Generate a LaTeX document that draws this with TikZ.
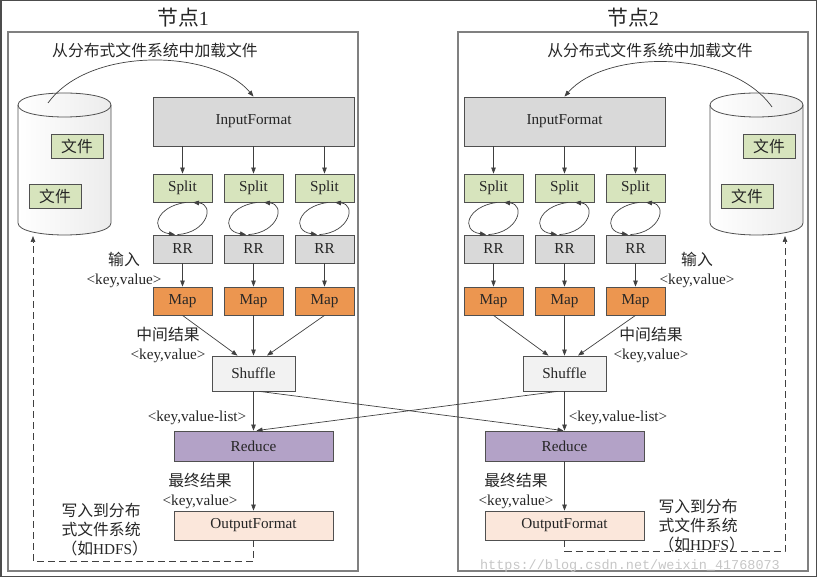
\documentclass[tikz,border=0pt]{standalone}
\usepackage{fontspec}
\setmainfont{Liberation Serif}
\newfontfamily\cjk[Scale=1.04]{Noto Sans CJK SC}
\newfontfamily\wmfont{Liberation Mono}
\usepackage{xcolor}
\usetikzlibrary{arrows.meta,shadows}
\definecolor{boxline}{RGB}{80,80,80}
\definecolor{linegray}{RGB}{64,64,64}
\definecolor{framegray}{RGB}{128,128,128}
\definecolor{splitgreen}{RGB}{215,228,189}
\definecolor{rrgray}{RGB}{217,217,217}
\definecolor{maporange}{RGB}{236,150,80}
\definecolor{shufflegray}{RGB}{242,242,242}
\definecolor{reducepurple}{RGB}{179,162,199}
\definecolor{outpeach}{RGB}{251,231,219}

\begin{document}
\begin{tikzpicture}[x=1pt,y=-1pt,
	font=\fontsize{15.2}{19}\selectfont,
	box/.style={draw=boxline,line width=0.8pt,inner sep=0pt,text=black!85,
		drop shadow={shadow xshift=1pt,shadow yshift=-1pt,fill=black,opacity=0.25}},
	small/.style={box,minimum width=59pt,minimum height=28pt},
	filebox/.style={box,fill=splitgreen,minimum width=52pt,minimum height=24pt},
	arr/.style={draw=linegray,line width=0.7pt,-{Triangle[length=6pt,width=4.5pt]}},
	lbl/.style={text=black!85,align=center}]
	\useasboundingbox (0,0) rectangle (817,577);
	\draw[black!70,line width=1.5pt] (0.75,0.75) rectangle (816.25,576.25);

	% the two nodes
	\draw[framegray,line width=1.2pt] (8,32) rectangle (358,571);
	\draw[framegray,line width=1.2pt] (458,32) rectangle (808,571);
	\node[lbl,font=\fontsize{20}{24}\selectfont] (ta) at (183,18) {{\cjk 节点}1};
	\node[lbl,font=\fontsize{20}{24}\selectfont] (tb) at (633,18) {{\cjk 节点}2};

	% file systems
	\draw[boxline,line width=0.8pt,left color=white,right color=gray!15]
		(18,105) -- (18,223) .. controls (18,239) and (111,239) .. (111,223)
		-- (111,105) .. controls (111,89) and (18,89) .. (18,105) -- cycle;
	\draw[boxline,line width=0.8pt] (18,105) .. controls (18,121) and (111,121) .. (111,105);
	\draw[boxline,line width=0.8pt,left color=white,right color=gray!15]
		(710,105) -- (710,223) .. controls (710,239) and (803,239) .. (803,223)
		-- (803,105) .. controls (803,89) and (710,89) .. (710,105) -- cycle;
	\draw[boxline,line width=0.8pt] (710,105) .. controls (710,121) and (803,121) .. (803,105);
	\node[filebox] (fa1) at (77,146) {\cjk 文件};
	\node[filebox] (fa2) at (55,196.5) {\cjk 文件};
	\node[filebox] (fb1) at (769,146) {\cjk 文件};
	\node[filebox] (fb2) at (747,196.5) {\cjk 文件};
	\coordinate (la) at (48,103);
	\coordinate (lb) at (772,107);
	\coordinate (dba) at (33,236);
	\coordinate (dbb) at (785,236);

	\foreach \n/\d in {a/0,b/311} {
		\node[box,fill=rrgray,minimum width=201pt,minimum height=49pt] (in\n) at ({253.5+\d},121.5) {InputFormat};
		\node[box,fill=shufflegray,minimum width=83pt,minimum height=35pt] (sh\n) at ({253.5+\d},373.5) {Shuffle};
		\node[box,fill=reducepurple,minimum width=159pt,minimum height=30pt] (re\n) at ({253.5+\d},446) {Reduce};
		\node[box,fill=outpeach,minimum width=159pt,minimum height=29pt] (out\n) at ({253.5+\d},525.5) {OutputFormat};
		\foreach \i in {1,2,3} {
			\node[small,fill=splitgreen] (s\n\i) at ({182.5+71*(\i-1)+\d},188) {Split};
			\node[small,fill=rrgray] (r\n\i) at ({182.5+71*(\i-1)+\d},249) {RR};
			\node[small,fill=maporange] (m\n\i) at ({182.5+71*(\i-1)+\d},301) {Map};
			\draw[arr] (s\n\i.north |- in\n.south) -- (s\n\i.north);
			\draw[arr] ([xshift=3.5pt]s\n\i.south) .. controls +(-30,4) and +(-26,-4) .. ([xshift=-7.5pt]r\n\i.north);
			\draw[arr] ([xshift=-5pt]r\n\i.north) .. controls +(30,-2) and +(22,2) .. ([xshift=10.5pt]s\n\i.south);
			\draw[arr] (r\n\i) -- (m\n\i);
		}
		\draw[arr] (m\n1.south) -- ([xshift=-16pt]sh\n.north);
		\draw[arr] (m\n2.south) -- (sh\n.north);
		\draw[arr] (m\n3.south) -- ([xshift=13.5pt]sh\n.north);
		\draw[arr] (sh\n) -- (re\n);
		\draw[arr] (re\n) -- (out\n);
	}

	% loading and writing back
	\draw[arr] (la) .. controls (90,45) and (215,50) .. (ina.north);
	\draw[arr] (lb) .. controls (730,48) and (605,50) .. (inb.north);
	\draw[arr,dash pattern=on 7pt off 4pt] (outa.south) -- ++(0,21) -| (dba);
	\draw[arr,dash pattern=on 7pt off 4pt] (outb.south) -- ++(0,11) -| (dbb);
	\draw[arr] ([xshift=6pt]sha.south) -- ([xshift=-1pt]reb.north);
	\draw[arr] ([xshift=-7pt]shb.south) -- ([xshift=3pt]rea.north);

	% labels
	\node[lbl] (ka) at (155,50) {\cjk 从分布式文件系统中加载文件};
	\node[lbl] (kb) at (650,50) {\cjk 从分布式文件系统中加载文件};
	\node[lbl] (ia) at (124,269.5) {{\cjk 输入}\\<key,value>};
	\node[lbl] (ib) at (697,269.5) {{\cjk 输入}\\<key,value>};
	\node[lbl] (ma) at (168,344.5) {{\cjk 中间结果}\\<key,value>};
	\node[lbl] (mb) at (651,344.5) {{\cjk 中间结果}\\<key,value>};
	\node[lbl] (va) at (197,418) {<key,value-list>};
	\node[lbl] (vb) at (618,418) {<key,value-list>};
	\node[lbl] (ea) at (200,490.5) {{\cjk 最终结果}\\<key,value>};
	\node[lbl] (eb) at (516,490.5) {{\cjk 最终结果}\\<key,value>};
	\node[lbl,align=left,anchor=west] (wa) at (58,530) {{\cjk 写入到分布}\\{\cjk 式文件系统}\\{\cjk （如}HDFS{\cjk ）}};
	\node[lbl,align=left,anchor=west] (wb) at (655,526) {{\cjk 写入到分布}\\{\cjk 式文件系统}\\{\cjk （如}HDFS{\cjk ）}};
	\node[text=gray!45,font=\wmfont\fontsize{13.5}{14}\selectfont,inner sep=0pt] (wm) at (630,566) {https://blog.csdn.net/weixin\_41768073};
\end{tikzpicture}
\end{document}
